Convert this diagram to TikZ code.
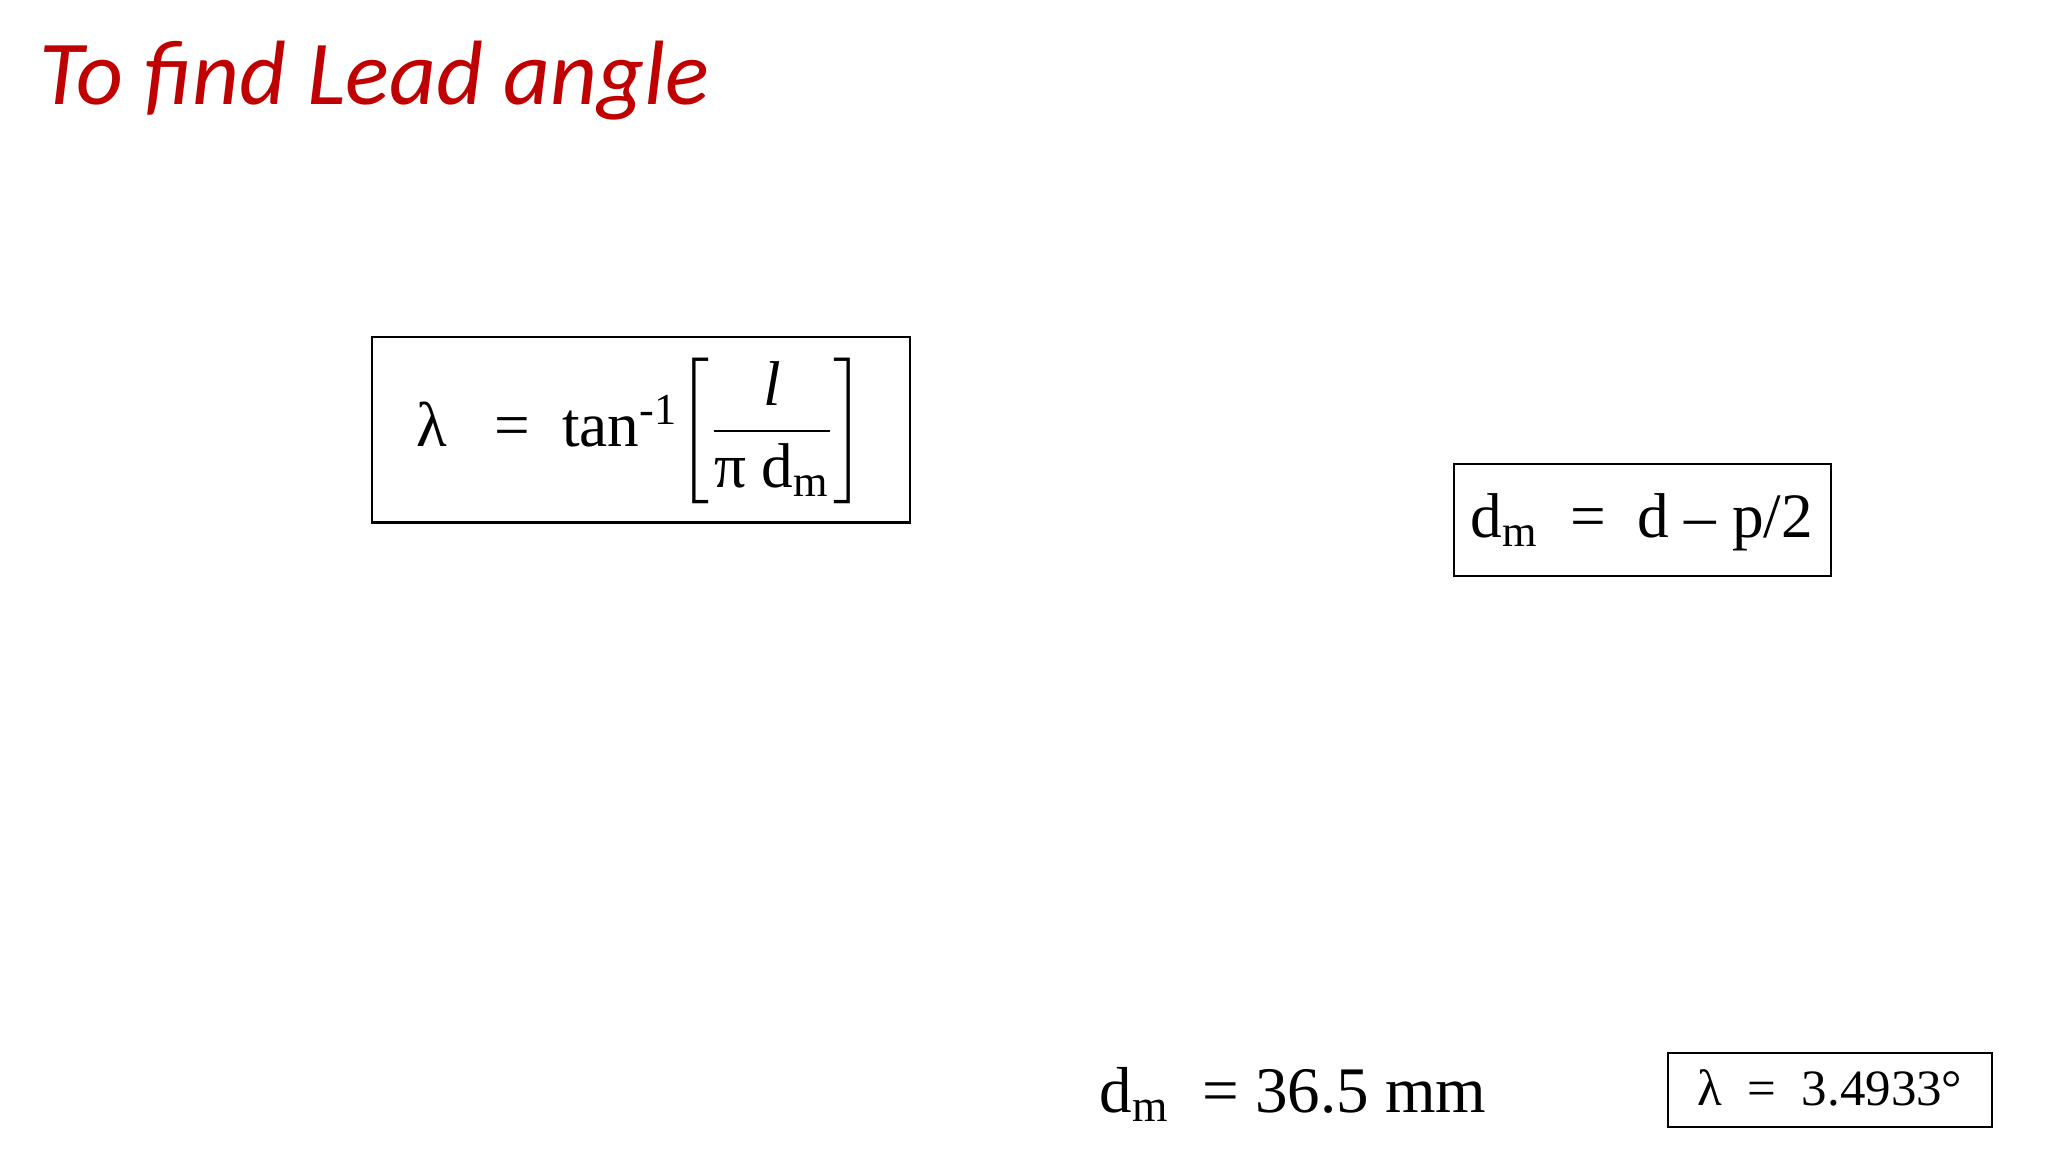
\documentclass[tikz,border=0pt]{standalone}
\usepackage{fontspec}
\usepackage{amsmath}
\setmainfont{Liberation Serif}
\newfontfamily\titlefont{Carlito}
\definecolor{titlered}{HTML}{C00000}
\begin{document}
\begin{tikzpicture}[x=0.013061cm,y=-0.013061cm,
  fbox/.style={draw=black,line width=0.6pt},
  ftext/.style={inner sep=0pt,anchor=center}]
\fill[white] (0,0) rectangle (1568,882);
\useasboundingbox (0,0) rectangle (1568,882);
\node[anchor=base west,inner sep=0pt,text=titlered,font=\titlefont\itshape\fontsize{26}{31}\selectfont] (title) at (30,80) {To find Lead angle};
\draw[fbox] (285,258) rectangle (697,400);
\node[ftext,font=\fontsize{18}{22}\selectfont] (f1) at (491,330) {λ \ \ = \ tan$^{\text{-1}}$$\left[\dfrac{\text{\itshape l}}{\text{π d}_{\text{m}}}\right]$};
\draw[fbox] (1113,355) rectangle (1402,441);
\node[ftext,font=\fontsize{18}{22}\selectfont] (f2) at (1257,400) {d$_{\text{m}}$ \ = \ d – p/2};
\node[ftext,font=\fontsize{18.5}{22}\selectfont] (f3) at (990,838) {d$_{\text{m}}$ \ = 36.5 mm};
\draw[fbox] (1277,806) rectangle (1525,863);
\node[ftext,font=\fontsize{14.5}{17}\selectfont] (f4) at (1401,833) {λ \ = \ 3.4933°};
\end{tikzpicture}
\end{document}
